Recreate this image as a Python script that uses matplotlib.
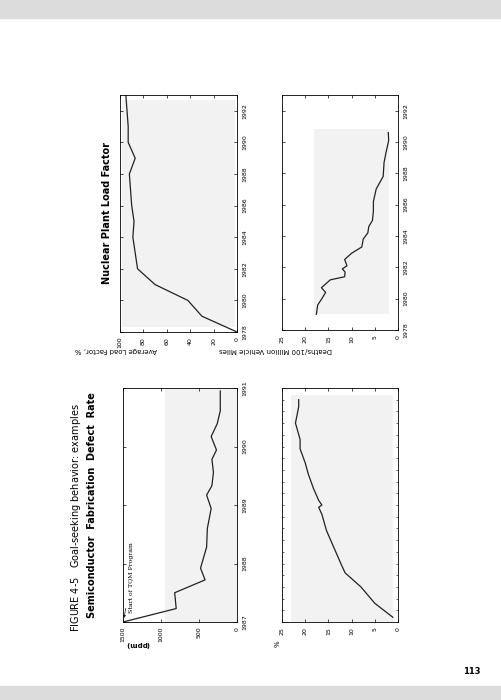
import matplotlib
matplotlib.use("Agg")
import matplotlib.pyplot as plt
from matplotlib.patches import Rectangle

# ---- data (chart terms: time, value) ----
nuc_years = [1978, 1979, 1980, 1981, 1982, 1983, 1984, 1985, 1986, 1987, 1988, 1989, 1990, 1991, 1992, 1993]
nuc_vals = [0, 30, 42, 70, 85, 87, 89, 88, 90, 91, 92, 87, 93, 93, 94, 95]

death_years = [1979.0, 1979.6, 1980.05, 1980.4, 1980.7, 1981.2, 1981.4, 1981.7, 1981.9, 1982.1, 1982.5,
               1982.9, 1983.3, 1983.8, 1984.2, 1984.6, 1985.0, 1985.6, 1986.2, 1987.0, 1987.8, 1988.7,
               1989.3, 1990.1, 1990.6]
death_vals = [17.6, 17.3, 16.3, 15.6, 16.5, 14.6, 11.5, 11.4, 12.0, 11.0, 11.5, 10.0, 7.8, 7.5, 6.5,
              6.3, 5.5, 5.3, 5.3, 4.7, 3.2, 3.0, 2.6, 2.0, 2.1]

semi_t = [1987.0, 1987.23, 1987.5, 1987.72, 1987.92, 1988.28, 1988.6, 1988.94, 1989.17, 1989.33,
          1989.56, 1989.78, 1989.94, 1990.17, 1990.39, 1990.61, 1990.78, 1990.95]
semi_v = [1500, 800, 820, 420, 480, 400, 390, 340, 400, 330, 310, 330, 270, 340, 260, 220, 220, 220]

pct_t = [0.02, 0.08, 0.15, 0.21, 0.24, 0.29, 0.34, 0.39, 0.46, 0.49, 0.50, 0.52, 0.57,
         0.63, 0.68, 0.74, 0.78, 0.85, 0.88, 0.92, 0.95]
pct_v = [1.1, 5.0, 8.0, 11.4, 12.1, 13.2, 14.3, 15.4, 16.4, 17.1, 16.4, 17.1, 18.2, 19.3,
         20.0, 21.1, 21.1, 22.1, 21.8, 21.4, 21.4]

W, H = 501, 700
fig = plt.figure(figsize=(W / 100, H / 100), dpi=100)
fig.patch.set_facecolor("white")
bg = fig.add_axes([0, 0, 1, 1]); bg.set_xlim(0, W); bg.set_ylim(H, 0); bg.axis("off")
bg.add_patch(Rectangle((0, 0), W, 18, color="#dcdcdc"))
bg.add_patch(Rectangle((0, 686), W, 14, color="#dcdcdc"))
bg.text(472, 672, "113", fontsize=6, fontweight="bold", ha="center", va="center")
bg.text(76, 632, r"F$\mathregular{IGURE}$ 4-5   Goal-seeking behavior: examples", rotation=90,
        fontsize=7, ha="center", va="bottom")


def mk(box, vlim, tlim):
    x0, y0, x1, y1 = box
    ax = fig.add_axes([x0 / W, 1 - y1 / H, (x1 - x0) / W, (y1 - y0) / H])
    ax.set_xlim(vlim[1], vlim[0])
    ax.set_ylim(*tlim)
    ax.yaxis.tick_right()
    ax.tick_params(axis="both", labelsize=4.5, length=2, width=0.5, direction="in", top=True, left=True)
    ax.tick_params(axis="y", labelrotation=90)
    ax.tick_params(axis="x", labelrotation=90)
    for s in ax.spines.values():
        s.set_linewidth(0.6)
    for lab in ax.get_yticklabels():
        lab.set_va("center")
    return ax


def shade(ax, v0, v1, t0, t1):
    ax.add_patch(Rectangle((v0, t0), v1 - v0, t1 - t0, color="#f2f2f2", zorder=0, lw=0))


# Nuclear
ax = mk((120, 95, 237, 332), (0, 100), (1978, 1993))
ax.set_xticks([0, 20, 40, 60, 80, 100]); ax.set_yticks(range(1978, 1993, 2))
shade(ax, 2, 98, 1978.3, 1992.7)
ax.plot(nuc_vals, nuc_years, color="#222", lw=0.9)
bg.text(107, 213, "Nuclear Plant Load Factor", rotation=90, fontsize=7, fontweight="bold", ha="center", va="center")
bg.text(116, 350, "Average Load Factor, %", rotation=180, fontsize=5, ha="center", va="center")

# Deaths
ax = mk((282, 95, 398, 330), (0, 25), (1978, 1993))
ax.set_xticks([0, 5, 10, 15, 20, 25]); ax.set_yticks(range(1978, 1993, 2))
shade(ax, 2, 18, 1979, 1990.8)
ax.plot(death_vals, death_years, color="#222", lw=0.9)
bg.text(276, 350, "Deaths/100 Million Vehicle Miles", rotation=180, fontsize=5, ha="center", va="center")

# Semiconductor
ax = mk((123, 388, 237, 622), (0, 1500), (1987, 1991))
ax.set_xticks([0, 500, 1000, 1500]); ax.set_yticks([1987, 1988, 1989, 1990, 1991])
shade(ax, 0, 950, 1987, 1991)
ax.plot(semi_v, semi_t, color="#222", lw=0.9)
ax.annotate("Start of TQM Program", xy=(1495, 1987.02), xytext=(1420, 1987.15), rotation=90,
            fontsize=4.5, family="DejaVu Serif", ha="left", va="bottom",
            arrowprops=dict(arrowstyle="-|>", lw=0.5, color="#222", mutation_scale=4))
bg.text(92, 505, "Semiconductor  Fabrication  Defect  Rate", rotation=90, fontsize=7, fontweight="bold",
        ha="center", va="center")
bg.text(137, 644, "(ppm)", rotation=180, fontsize=5, fontweight="bold", ha="center", va="center")

# Percent
ax = mk((282, 388, 398, 622), (0, 25), (0, 1))
ax.set_xticks([0, 5, 10, 15, 20, 25]); ax.set_yticks([])
ax.set_yticks([i / 20 for i in range(21)], minor=True)
ax.tick_params(which="minor", length=1.5, width=0.4, direction="in", right=True, left=True)
shade(ax, 1, 23, 0.0, 0.97)
ax.plot(pct_v, pct_t, color="#222", lw=0.9)
bg.text(278, 644, "%", rotation=90, fontsize=5, ha="center", va="center")

fig.savefig("out.png", dpi=100)
